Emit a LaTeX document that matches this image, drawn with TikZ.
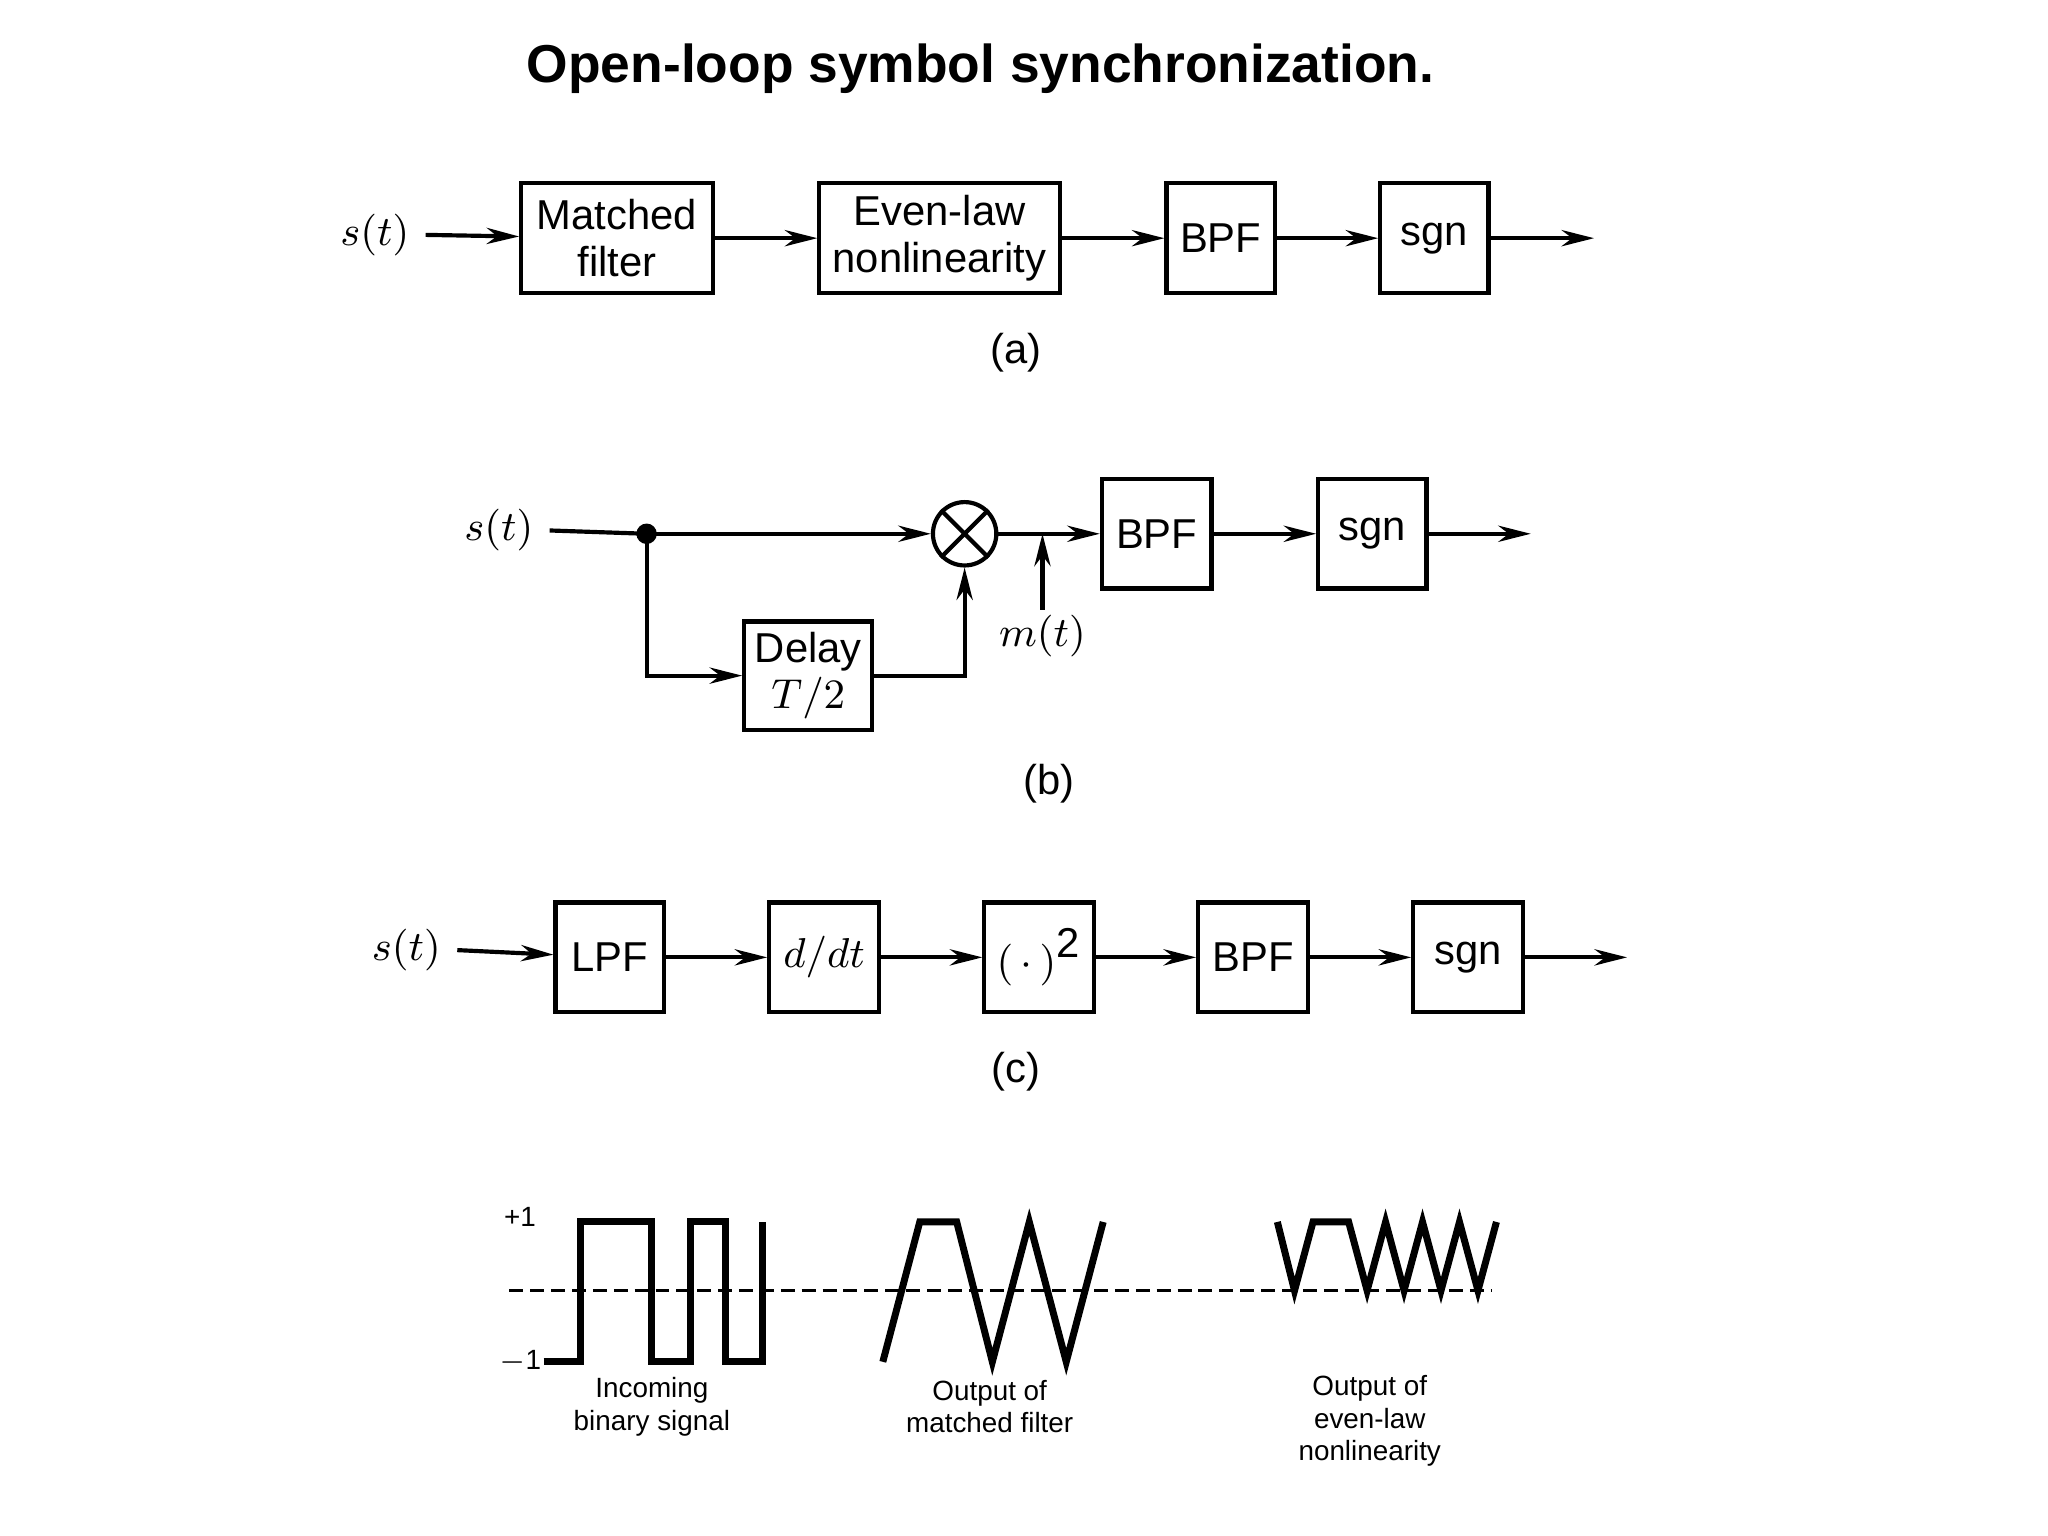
\documentclass[tikz,border=0pt]{standalone}
\usepackage{fontspec}
\setmainfont{Liberation Sans}
\usetikzlibrary{arrows.meta}
\begin{document}
\begin{tikzpicture}[x=0.01cm,y=-0.01cm,
 box/.style={draw,line width=0.9pt,inner sep=0pt,minimum height=0.83cm,font=\fontsize{9}{10}\selectfont,align=center},
 arr/.style={line width=0.9pt,-{Stealth[length=7pt,width=3.5pt]}},
 ln/.style={line width=0.9pt},
 lab/.style={font=\fontsize{9}{10}\selectfont},
 small/.style={font=\fontsize{6}{7}\selectfont,align=center},
 wave/.style={line width=1.5pt}]
\useasboundingbox (0,0) rectangle (1552,1164);
\node[font=\bfseries\fontsize{11.5}{13}\selectfont] (title) at (743,52) {Open-loop symbol synchronization.};
% (a)
\node[lab] (sa) at (284,178) {$s(t)$};
\node[box,minimum width=1.45cm] (mf) at (467.5,180.5) {Matched\\filter};
\node[box,minimum width=1.82cm] (ev) at (712,180.5) {Even-law\\nonlinearity};
\node[box,minimum width=0.82cm] (bpfa) at (925,180.5) {BPF};
\node[box,minimum width=0.82cm] (sgna) at (1087,180.5) {sgn};
\coordinate (outa) at (1208,180.5);
\draw[arr] (sa.east) -- (mf);
\draw[arr] (mf) -- (ev);
\draw[arr] (ev) -- (bpfa);
\draw[arr] (bpfa) -- (sgna);
\draw[arr] (sgna) -- (outa);
\node[lab] (capa) at (770,267) {(a)};
% (b)
\node[lab] (sb) at (378,402) {$s(t)$};
\coordinate (dot) at (490,404.5);
\fill (dot) circle (2.2pt);
\node[draw,circle,line width=0.9pt,minimum size=0.48cm,inner sep=0pt] (mul) at (731,404.5) {};
\draw[line width=0.9pt] (mul.north west) -- (mul.south east) (mul.north east) -- (mul.south west);
\node[box,minimum width=0.83cm] (bpfb) at (876.5,404.5) {BPF};
\node[box,minimum width=0.82cm] (sgnb) at (1040,404.5) {sgn};
\node[box,minimum width=0.97cm,minimum height=0.82cm] (del) at (612.5,512) {Delay\\$T/2$};
\coordinate (outb) at (1160,404.5);
\coordinate (mt) at (790,462);
\node[lab] (mlab) at (790,482) {$m(t)$};
\draw[ln] (sb.east) -- (dot);
\draw[arr] (dot) -- (mul.west);
\draw[arr] (dot) |- (del.west);
\draw[arr] (del.east) -| (mul.south);
\draw[arr] (mul.east) -- (bpfb);
\draw[arr] (mt) -- (790,404.5);
\draw[arr] (bpfb) -- (sgnb);
\draw[arr] (sgnb) -- (outb);
\node[lab] (capb) at (795,594) {(b)};
% (c)
\node[lab] (sc) at (308,720) {$s(t)$};
\node[box,minimum width=0.82cm] (lpf) at (462,725.5) {LPF};
\node[box,minimum width=0.83cm] (ddt) at (624.5,725.5) {$d/dt$};
\node[box,minimum width=0.83cm] (sq) at (787.5,725.5) {$(\,\cdot\,)^{\textrm{2}}$};
\node[box,minimum width=0.83cm] (bpfc) at (949.5,725.5) {BPF};
\node[box,minimum width=0.83cm] (sgnc) at (1112.5,725.5) {sgn};
\coordinate (outc) at (1233,725.5);
\draw[arr] (sc.east) -- (lpf);
\draw[arr] (lpf) -- (ddt);
\draw[arr] (ddt) -- (sq);
\draw[arr] (sq) -- (bpfc);
\draw[arr] (bpfc) -- (sgnc);
\draw[arr] (sgnc) -- (outc);
\node[lab] (capc) at (770,812) {(c)};
% waveforms
\draw[dashed,line width=0.5pt,dash pattern=on 3pt off 1.5pt] (386,978) -- (1130,978);
\node[small] (p1) at (394,922) {+1};
\node[small] (m1) at (394,1032) {$-$1};
\draw[wave] (412,1032) -- (440,1032) -- (440,926) -- (494,926) -- (494,1032) -- (523,1032) -- (523,926) -- (550,926) -- (550,1032) -- (578,1032) -- (578,926);
\draw[wave] (669,1032) -- (697,926) -- (725,926) -- (752,1032) -- (780,926) -- (808,1032) -- (836,926);
\draw[wave] (968,926) -- (981,978) -- (995,926) -- (1022,926) -- (1036,978) -- (1050,926) -- (1064,978) -- (1078,926) -- (1092,978) -- (1106,926) -- (1120,978) -- (1134,926);
\node[small] (l1) at (494,1066) {Incoming\\binary signal};
\node[small] (l2) at (750,1066) {Output of\\matched filter};
\node[small] (l3) at (1038,1077) {Output of\\even-law\\nonlinearity};
\end{tikzpicture}
\end{document}
